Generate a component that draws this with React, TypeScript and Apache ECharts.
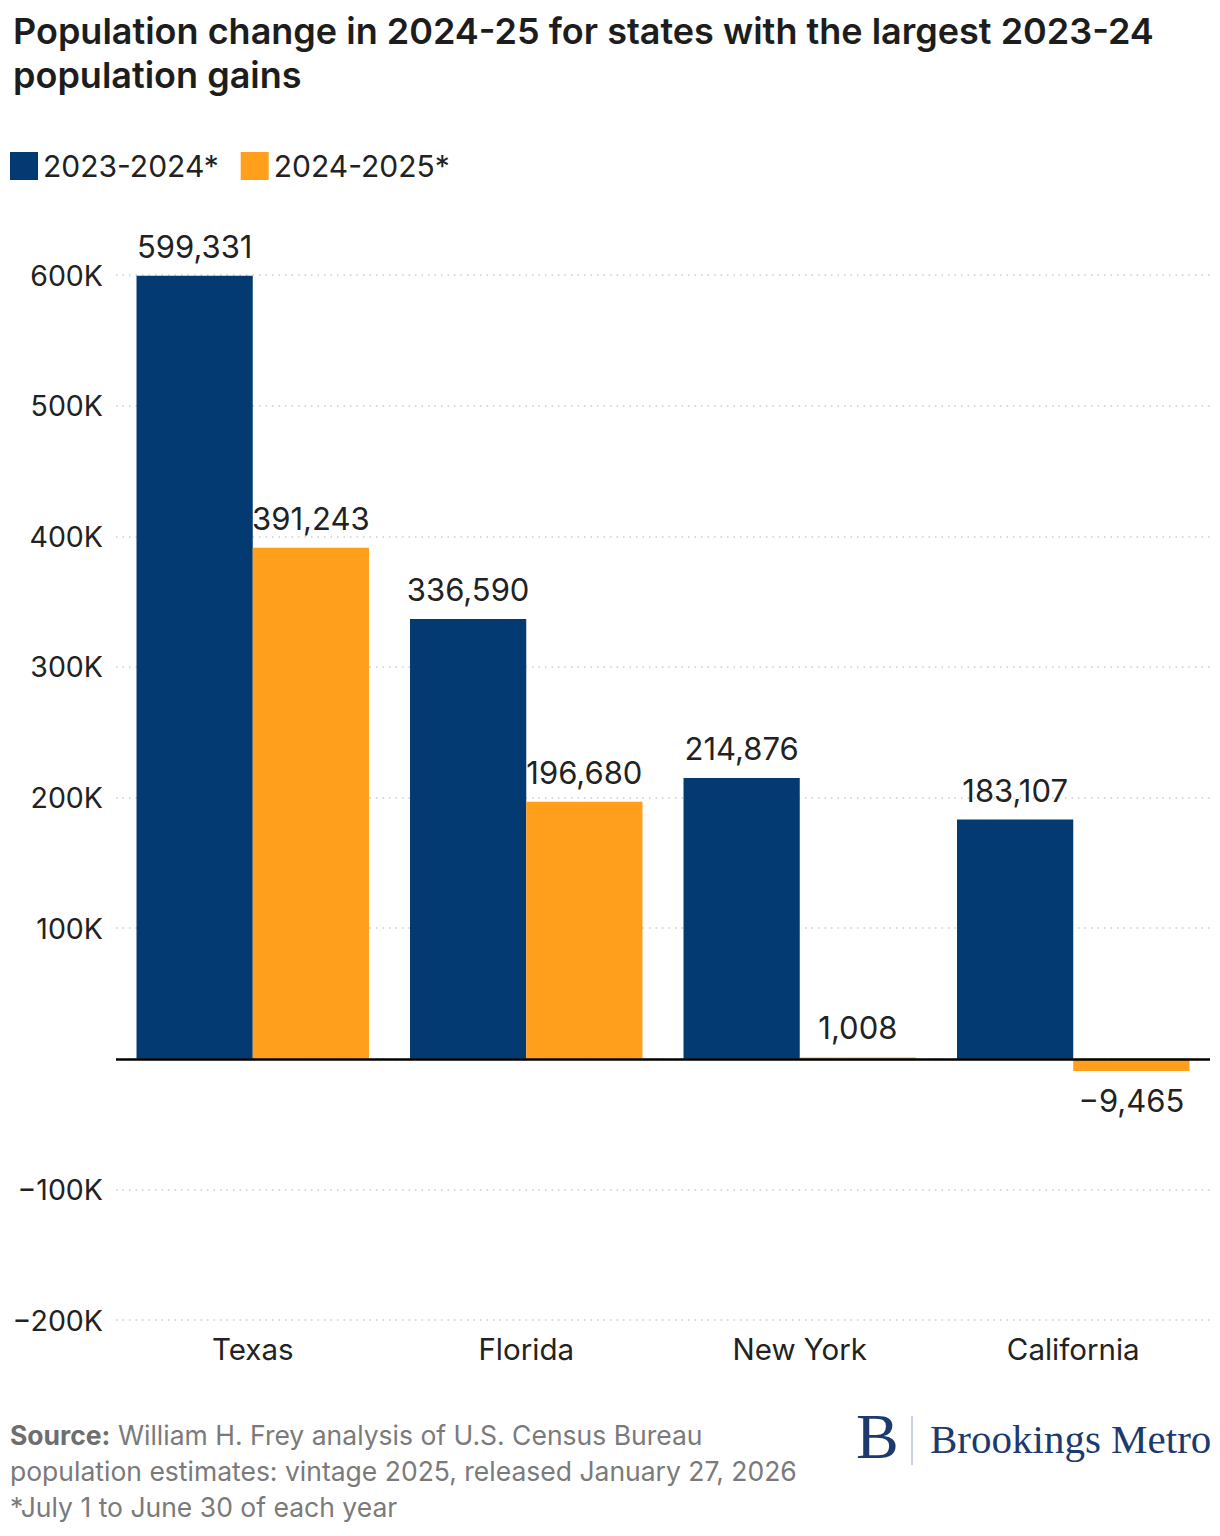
import React, { useEffect, useRef } from "react";
import * as echarts from "echarts";

// Population change by state, July 1 to June 30
const states = ["Texas", "Florida", "New York", "California"];
const change2023to2024 = [599331, 336590, 214876, 183107];
const change2024to2025 = [391243, 196680, 1008, -9465];
const seriesNames = ["2023-2024*", "2024-2025*"];

const NAVY = "#023a71";
const ORANGE = "#ff9f1c";
const FONT = "Inter";

const fmtNumber = (v: number) =>
  (v < 0 ? "\u2212" : "") + Math.abs(v).toLocaleString("en-US");

const fmtTick = (v: number) => {
  if (v === 0) return "";
  const k = Math.abs(v) / 1000;
  return (v < 0 ? "\u2212" : "") + k + "K";
};

const barData = (values: number[]) =>
  values.map((v) => ({
    value: v,
    label: { position: v < 0 ? "bottom" : "top" },
  }));

export default function App() {
  const ref = useRef<HTMLDivElement>(null);

  useEffect(() => {
    document.body.style.margin = "0";
    if (!ref.current) return;
    const chart = echarts.init(ref.current, undefined, { renderer: "svg" });

    const labelStyle = {
      show: true,
      fontFamily: FONT,
      fontSize: 31,
      color: "#222",
      distance: 14,
      formatter: (p: any) => fmtNumber(p.value),
    };

    chart.setOption({
      animation: false,
      backgroundColor: "#fff",
      textStyle: { fontFamily: FONT },
      title: [
        {
          text:
            "Population change in 2024-25 for states with the largest 2023-24\npopulation gains",
          left: 8,
          top: 4,
          textStyle: {
            fontFamily: FONT,
            fontSize: 36,
            fontWeight: 600,
            lineHeight: 44,
            color: "#1d1d1d",
          },
        },
        {
          text:
            "{b|Source:} William H. Frey analysis of U.S. Census Bureau\npopulation estimates: vintage 2025, released January 27, 2026\n*July 1 to June 30 of each year",
          left: 5,
          top: 1412,
          textStyle: {
            fontFamily: FONT,
            fontSize: 26.5,
            fontWeight: "normal",
            lineHeight: 36,
            color: "#7a7a7a",
            rich: {
              b: {
                fontFamily: FONT,
                fontSize: 26.5,
                fontWeight: "bold",
                lineHeight: 36,
                color: "#6e6e6e",
              },
            },
          },
        },
      ],
      legend: {
        left: 5,
        top: 146,
        icon: "rect",
        itemWidth: 28,
        itemHeight: 28,
        itemGap: 22,
        selectedMode: false,
        textStyle: { fontFamily: FONT, fontSize: 30, color: "#222" },
        data: seriesNames,
      },
      grid: { left: 116, right: 10, top: 275, bottom: 216, containLabel: false },
      xAxis: {
        type: "category",
        data: states,
        axisLine: { show: false, onZero: false },
        axisTick: { show: false },
        axisLabel: {
          fontFamily: FONT,
          fontSize: 29.5,
          color: "#222",
          margin: 14,
        },
      },
      yAxis: {
        type: "value",
        min: -200000,
        max: 600000,
        interval: 100000,
        axisLine: { show: false },
        axisTick: { show: false },
        axisLabel: {
          fontFamily: FONT,
          fontSize: 28.5,
          color: "#222",
          margin: 13,
          formatter: fmtTick,
        },
        splitLine: {
          lineStyle: { color: "#cccccc", width: 1.5, type: [1.5, 5] },
        },
      },
      series: [
        {
          name: seriesNames[0],
          type: "bar",
          data: barData(change2023to2024),
          itemStyle: { color: NAVY },
          barGap: "0%",
          barCategoryGap: "15%",
          label: labelStyle,
          z: 2,
        },
        {
          name: seriesNames[1],
          type: "bar",
          data: barData(change2024to2025),
          itemStyle: { color: ORANGE },
          barGap: "0%",
          barCategoryGap: "15%",
          label: labelStyle,
          z: 2,
          markLine: {
            silent: true,
            symbol: ["none", "none"],
            label: { show: false },
            lineStyle: { color: "#000", width: 2.5, type: "solid" },
            data: [{ yAxis: 0 }],
            z: 5,
          },
        },
      ],
      graphic: [
        {
          type: "text",
          left: 856,
          top: 1404,
          style: {
            text: "B",
            fontFamily: "Liberation Serif",
            fontSize: 64,
            fill: "#1c3a6e",
          },
        },
        {
          type: "rect",
          shape: { x: 911, y: 1416, width: 2, height: 49 },
          style: { fill: "#c9d0e0" },
        },
        {
          type: "text",
          left: 930,
          top: 1418,
          style: {
            text: "Brookings Metro",
            fontFamily: "Liberation Serif",
            fontSize: 41,
            fill: "#1c3a6e",
          },
        },
      ],
    });

    return () => chart.dispose();
  }, []);

  return (
    <div
      ref={ref}
      style={{ position: "absolute", left: 0, top: 0, width: 1220, height: 1536 }}
    />
  );
}
